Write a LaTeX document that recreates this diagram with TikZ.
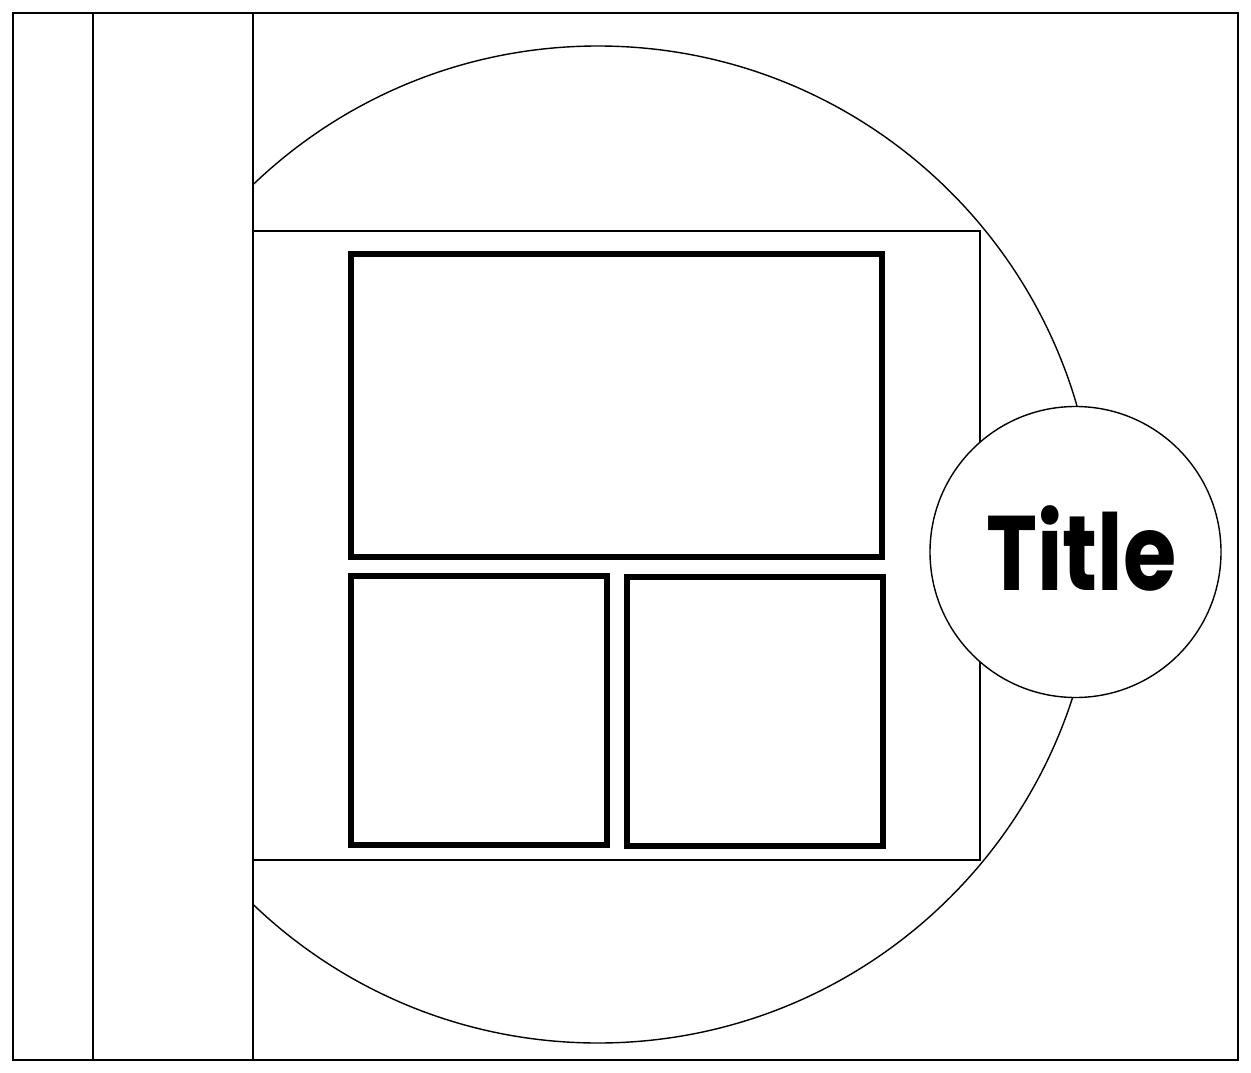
\documentclass[tikz,border=0pt]{standalone}
\usepackage{graphicx}
\usepackage{fontspec}
\newfontfamily\titlefont{Poppins}[UprightFont=* Bold]
\begin{document}
\begin{tikzpicture}[x=1pt,y=-1pt,
  thin line/.style={draw=black,line width=1.4pt},
  photo/.style={draw=black,line width=5.5pt,fill=white}]
\useasboundingbox (0,0) rectangle (1251,1073);
% outer frame and stripes
\draw[thin line] (13,13) rectangle (1238,1060);
\draw[thin line] (93,13) -- (93,1060);
\draw[thin line] (253,13) -- (253,1060);
% big circle, clipped to the right of the stripe
\begin{scope}
  \clip (253,13) rectangle (1238,1060);
  \draw[thin line] (598,544.5) circle (498.5);
\end{scope}
% mat rectangle
\draw[thin line,fill=white] (253,231) rectangle (980,860);
% photos
\draw[photo] (351,254) rectangle (882,557);
\draw[photo] (351,576) rectangle (607,845);
\draw[photo] (627,577) rectangle (883,846);
% title circle
\node[circle,draw=black,line width=1.4pt,fill=white,minimum size=291pt,inner sep=0pt] (titlecircle) at (1075.5,552) {};
\node[anchor=base,inner sep=0pt,font=\titlefont\fontsize{106}{106}\selectfont] (title) at (1081.5,590) {\scalebox{0.815}[1]{Title}};
\end{tikzpicture}
\end{document}
